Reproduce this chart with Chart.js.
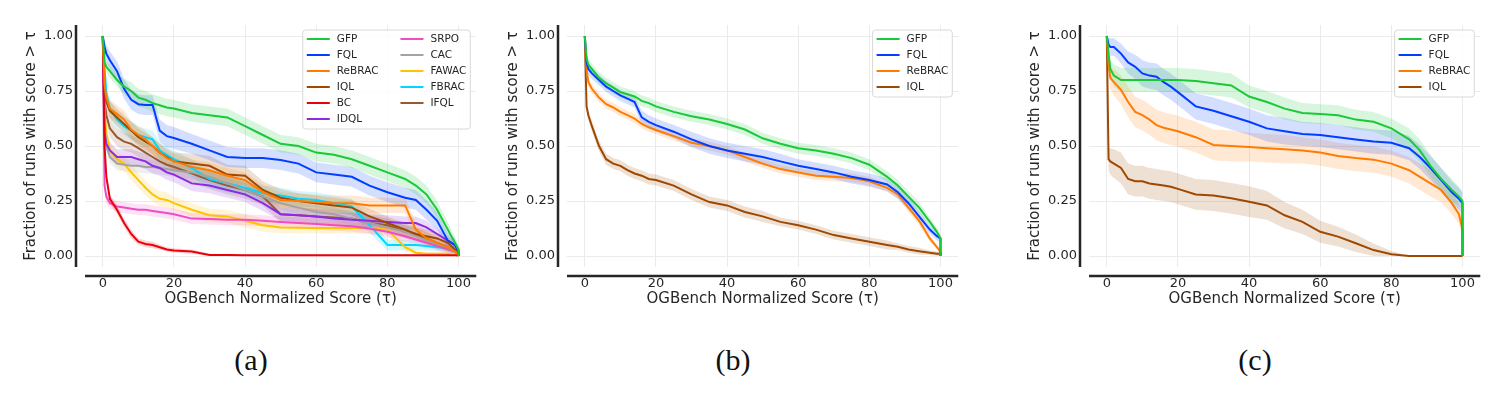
<!DOCTYPE html>
<html>
<head>
<meta charset="utf-8">
<script src="https://cdn.jsdelivr.net/npm/chart.js@4.4.1/dist/chart.umd.min.js"></script>
<style>
  body { margin: 0; background: #fff; }
  #fig { position: relative; width: 1497px; height: 396px; overflow: hidden; }
  #fig canvas { position: absolute; top: 0; }
  .cap { position: absolute; top: 340px; line-height: 40px; transform: translateX(-50%);
         font-family: "Liberation Serif", serif; font-size: 30px; color: #111; }
</style>
</head>
<body>
<div id="fig">
  <canvas id="panelA" width="480" height="320" style="left:0px"></canvas>
  <canvas id="panelB" width="480" height="320" style="left:482px"></canvas>
  <canvas id="panelC" width="480" height="320" style="left:1004px"></canvas>
  <div class="cap" style="left:251px">(a)</div>
  <div class="cap" style="left:733px">(b)</div>
  <div class="cap" style="left:1255px">(c)</div>
</div>
<script>
// score thresholds (tau); last 100 repeated so every curve closes at (100, 0)
const tau = [0, 0.5, 1, 2, 4, 6, 8, 10, 12, 14, 16, 18, 20, 25, 30, 35,
  40, 45, 50, 55, 60, 65, 70, 75, 80, 85, 88, 91, 94, 97, 99, 100, 100];
const xTicks = [0, 20, 40, 60, 80, 100];
const yTicks = [0, 0.25, 0.5, 0.75, 1.0];
const xTitle = "OGBench Normalized Score (τ)";
const yTitle = "Fraction of runs with score > τ";

// ---- panel (a) ----
const namesA = ["GFP", "FQL", "ReBRAC", "IQL", "BC", "IDQL", "SRPO", "CAC", "FAWAC", "FBRAC", "IFQL"];
const gfpA = [1.0, 0.88, 0.86, 0.84, 0.80, 0.77, 0.75, 0.72, 0.71, 0.695, 0.685, 0.675, 0.67, 0.65, 0.64, 0.63,
  0.59, 0.55, 0.51, 0.50, 0.47, 0.46, 0.44, 0.41, 0.38, 0.35, 0.32, 0.28, 0.21, 0.12, 0.06, 0.03, 0];
const fqlA = [1.0, 0.95, 0.92, 0.89, 0.84, 0.76, 0.71, 0.69, 0.686, 0.686, 0.57, 0.545, 0.536, 0.51, 0.48, 0.45,
  0.445, 0.445, 0.436, 0.42, 0.38, 0.37, 0.36, 0.32, 0.29, 0.265, 0.255, 0.21, 0.16, 0.07, 0.05, 0.02, 0];
const rebracA = [1.0, 0.78, 0.72, 0.67, 0.645, 0.62, 0.575, 0.55, 0.53, 0.50, 0.47, 0.445, 0.43, 0.405, 0.39, 0.365,
  0.345, 0.29, 0.255, 0.25, 0.245, 0.24, 0.24, 0.23, 0.23, 0.23, 0.12, 0.08, 0.06, 0.04, 0.02, 0.01, 0];
const iqlA = [1.0, 0.76, 0.70, 0.66, 0.63, 0.60, 0.57, 0.54, 0.52, 0.50, 0.47, 0.45, 0.43, 0.42, 0.41, 0.37,
  0.365, 0.30, 0.265, 0.25, 0.24, 0.23, 0.22, 0.18, 0.15, 0.12, 0.10, 0.09, 0.08, 0.06, 0.03, 0.01, 0];
const bcA = [1.0, 0.50, 0.36, 0.26, 0.21, 0.15, 0.10, 0.065, 0.055, 0.05, 0.04, 0.03, 0.025, 0.02, 0.005, 0.004,
  0.003, 0.003, 0.003, 0.003, 0.003, 0.003, 0.003, 0.003, 0.003, 0.003, 0.003, 0.003, 0.003, 0.003, 0.003, 0.002, 0];
const idqlA = [1.0, 0.56, 0.51, 0.48, 0.45, 0.45, 0.45, 0.44, 0.43, 0.41, 0.40, 0.38, 0.37, 0.33, 0.32, 0.30,
  0.28, 0.24, 0.19, 0.185, 0.18, 0.17, 0.165, 0.16, 0.155, 0.15, 0.15, 0.13, 0.10, 0.07, 0.05, 0.03, 0];
const srpoA = [1.0, 0.32, 0.27, 0.24, 0.225, 0.22, 0.215, 0.21, 0.21, 0.205, 0.20, 0.195, 0.19, 0.17, 0.168, 0.165,
  0.165, 0.16, 0.155, 0.15, 0.145, 0.14, 0.135, 0.125, 0.11, 0.09, 0.075, 0.06, 0.045, 0.03, 0.02, 0.01, 0];
const cacA = [1.0, 0.60, 0.50, 0.45, 0.42, 0.415, 0.41, 0.41, 0.405, 0.405, 0.40, 0.395, 0.39, 0.38, 0.36, 0.33,
  0.30, 0.27, 0.24, 0.22, 0.20, 0.19, 0.17, 0.15, 0.13, 0.11, 0.09, 0.07, 0.05, 0.03, 0.02, 0.01, 0];
const fawacA = [1.0, 0.65, 0.56, 0.48, 0.44, 0.42, 0.38, 0.345, 0.31, 0.28, 0.26, 0.255, 0.24, 0.21, 0.185, 0.18,
  0.16, 0.14, 0.13, 0.128, 0.127, 0.127, 0.127, 0.127, 0.12, 0.04, 0.015, 0.01, 0.01, 0.01, 0.005, 0.003, 0];
const fbracA = [1.0, 0.86, 0.74, 0.67, 0.62, 0.59, 0.57, 0.55, 0.54, 0.53, 0.48, 0.46, 0.44, 0.40, 0.35, 0.33,
  0.31, 0.285, 0.275, 0.26, 0.255, 0.24, 0.225, 0.14, 0.05, 0.05, 0.05, 0.045, 0.04, 0.035, 0.03, 0.02, 0];
const ifqlA = [1.0, 0.70, 0.64, 0.58, 0.54, 0.52, 0.51, 0.49, 0.47, 0.45, 0.43, 0.415, 0.405, 0.375, 0.345, 0.32,
  0.30, 0.27, 0.19, 0.185, 0.18, 0.175, 0.17, 0.15, 0.14, 0.11, 0.10, 0.08, 0.06, 0.04, 0.02, 0.01, 0];
// half-widths of the shaded bands
const gfpAs = [0, .02, .025, .03, .03, .035, .04, .04, .04, .04, .04, .04, .04, .04, .04, .04,
  .04, .04, .04, .04, .04, .04, .04, .04, .04, .04, .04, .04, .04, .035, .025, .02, 0];
const fqlAs = [0, .03, .04, .04, .045, .045, .045, .045, .045, .045, .05, .05, .05, .045, .045, .045,
  .045, .045, .045, .045, .045, .045, .045, .045, .045, .045, .045, .045, .04, .035, .03, .02, 0];
const rebracAs = [0, .03, .035, .04, .04, .04, .04, .04, .04, .04, .04, .035, .035, .035, .035, .035,
  .035, .035, .035, .035, .035, .035, .035, .035, .035, .035, .035, .03, .025, .02, .015, .01, 0];
const iqlAs = [0, .03, .035, .04, .04, .04, .04, .04, .04, .04, .04, .04, .04, .045, .045, .045,
  .045, .04, .04, .035, .035, .035, .035, .035, .03, .03, .03, .03, .025, .02, .015, .01, 0];
const bcAs = [0, .03, .025, .02, .02, .02, .02, .015, .015, .015, .012, .01, .01, .01, .005, .004,
  .003, .003, .003, .003, .003, .003, .003, .003, .003, .003, .003, .003, .003, .003, .003, .002, 0];
const idqlAs = [0, .03, .03, .035, .035, .035, .035, .035, .035, .035, .035, .035, .035, .035, .035, .035,
  .035, .035, .03, .03, .03, .03, .03, .03, .03, .03, .03, .03, .025, .02, .015, .01, 0];
const srpoAs = [0, .03, .03, .025, .025, .025, .025, .025, .025, .025, .025, .025, .025, .025, .025, .025,
  .025, .025, .025, .025, .025, .025, .025, .025, .025, .025, .02, .02, .02, .015, .01, .01, 0];
const cacAs = [0, .03, .03, .03, .03, .03, .03, .03, .03, .03, .03, .03, .03, .03, .03, .03,
  .03, .03, .03, .03, .03, .03, .03, .03, .03, .03, .025, .025, .02, .015, .01, .01, 0];
const fawacAs = [0, .04, .04, .04, .035, .035, .035, .035, .035, .035, .035, .035, .03, .03, .03, .03,
  .03, .03, .025, .025, .025, .025, .025, .025, .025, .02, .01, .008, .008, .008, .005, .003, 0];
const fbracAs = [0, .04, .04, .04, .04, .04, .04, .04, .04, .04, .04, .04, .04, .04, .04, .04,
  .035, .035, .035, .035, .035, .035, .035, .035, .025, .025, .025, .02, .02, .02, .015, .01, 0];
const ifqlAs = [0, .03, .035, .04, .04, .04, .04, .04, .04, .04, .04, .04, .04, .04, .04, .04,
  .04, .04, .035, .035, .035, .035, .035, .035, .03, .03, .03, .025, .02, .02, .015, .01, 0];

// ---- panel (b) ----
const namesBC = ["GFP", "FQL", "ReBRAC", "IQL"];
const gfpB = [1.0, 0.90, 0.87, 0.85, 0.81, 0.785, 0.765, 0.745, 0.735, 0.725, 0.705, 0.695, 0.68, 0.655, 0.635, 0.62,
  0.60, 0.575, 0.535, 0.51, 0.49, 0.48, 0.465, 0.445, 0.415, 0.36, 0.32, 0.27, 0.22, 0.155, 0.11, 0.08, 0];
const fqlB = [1.0, 0.88, 0.85, 0.83, 0.80, 0.77, 0.75, 0.73, 0.715, 0.70, 0.63, 0.61, 0.595, 0.565, 0.53, 0.50,
  0.48, 0.465, 0.45, 0.43, 0.41, 0.395, 0.38, 0.36, 0.345, 0.325, 0.29, 0.24, 0.18, 0.12, 0.09, 0.08, 0];
const rebracB = [1.0, 0.85, 0.79, 0.76, 0.72, 0.69, 0.675, 0.655, 0.64, 0.625, 0.60, 0.585, 0.573, 0.545, 0.515, 0.50,
  0.48, 0.45, 0.42, 0.395, 0.38, 0.365, 0.36, 0.355, 0.34, 0.31, 0.28, 0.22, 0.16, 0.08, 0.04, 0.02, 0];
const iqlB = [1.0, 0.68, 0.64, 0.59, 0.50, 0.44, 0.42, 0.41, 0.39, 0.375, 0.365, 0.35, 0.345, 0.32, 0.28, 0.245,
  0.23, 0.20, 0.18, 0.155, 0.14, 0.12, 0.095, 0.08, 0.065, 0.05, 0.042, 0.03, 0.022, 0.015, 0.01, 0.01, 0];
const gfpBs = [0, .02, .025, .025, .025, .025, .025, .025, .025, .025, .025, .025, .025, .025, .025, .025,
  .025, .025, .025, .025, .025, .025, .025, .025, .025, .025, .025, .025, .025, .02, .02, .015, 0];
const fqlBs = [0, .02, .025, .025, .025, .025, .025, .025, .025, .025, .03, .03, .03, .03, .035, .035,
  .035, .035, .035, .035, .03, .03, .03, .03, .03, .03, .03, .03, .025, .02, .02, .015, 0];
const rebracBs = [0, .02, .02, .02, .02, .02, .02, .02, .02, .02, .02, .02, .02, .02, .02, .02,
  .02, .02, .02, .02, .02, .02, .02, .02, .02, .02, .02, .02, .02, .015, .01, .01, 0];
const iqlBs = [0, .02, .02, .025, .025, .025, .025, .025, .025, .025, .025, .025, .025, .025, .025, .025,
  .025, .025, .025, .02, .02, .02, .02, .02, .02, .02, .015, .015, .015, .01, .01, .01, 0];

// ---- panel (c) ----
const gfpC = [1.0, 0.92, 0.85, 0.82, 0.80, 0.80, 0.80, 0.80, 0.80, 0.80, 0.80, 0.80, 0.80, 0.795, 0.785, 0.775,
  0.725, 0.70, 0.67, 0.65, 0.645, 0.64, 0.62, 0.61, 0.58, 0.53, 0.48, 0.41, 0.35, 0.30, 0.27, 0.25, 0];
const fqlC = [1.0, 0.96, 0.95, 0.95, 0.92, 0.88, 0.86, 0.83, 0.82, 0.815, 0.79, 0.77, 0.745, 0.68, 0.66, 0.635,
  0.61, 0.58, 0.567, 0.555, 0.55, 0.54, 0.53, 0.52, 0.515, 0.49, 0.45, 0.40, 0.345, 0.29, 0.26, 0.24, 0];
const rebracC = [1.0, 0.87, 0.81, 0.79, 0.755, 0.70, 0.655, 0.64, 0.62, 0.595, 0.583, 0.575, 0.567, 0.54, 0.505, 0.50,
  0.495, 0.49, 0.485, 0.48, 0.47, 0.455, 0.445, 0.438, 0.42, 0.39, 0.36, 0.33, 0.30, 0.24, 0.19, 0.12, 0];
const iqlC = [1.0, 0.44, 0.43, 0.42, 0.40, 0.35, 0.34, 0.34, 0.33, 0.325, 0.32, 0.315, 0.305, 0.28, 0.275, 0.262,
  0.247, 0.23, 0.185, 0.155, 0.11, 0.088, 0.058, 0.027, 0.008, 0, 0, 0, 0, 0, 0, 0, 0];
const gfpCs = [0, .03, .04, .05, .055, .055, .055, .055, .055, .055, .055, .055, .055, .055, .055, .055,
  .05, .05, .05, .045, .045, .045, .045, .045, .045, .05, .05, .05, .05, .05, .045, .04, 0];
const fqlCs = [0, .03, .04, .04, .045, .05, .055, .06, .06, .06, .06, .06, .06, .06, .06, .06,
  .06, .06, .06, .055, .055, .055, .055, .055, .055, .055, .055, .055, .055, .05, .05, .05, 0];
const rebracCs = [0, .04, .05, .06, .065, .07, .07, .07, .07, .07, .07, .07, .07, .07, .07, .07,
  .065, .065, .065, .06, .06, .06, .06, .06, .06, .06, .06, .06, .055, .05, .045, .04, 0];
const iqlCs = [0, .05, .06, .065, .07, .07, .07, .07, .07, .07, .07, .07, .07, .07, .07, .07,
  .07, .065, .06, .055, .05, .045, .04, .03, .015, 0, 0, 0, 0, 0, 0, 0, 0];

const colors = {
  GFP: "#1ac938", FQL: "#023eff", ReBRAC: "#ff7c00", IQL: "#9f4800", BC: "#e8000b",
  IDQL: "#8b2be2", SRPO: "#f14cc1", CAC: "#a3a3a3", FAWAC: "#ffc400", FBRAC: "#00d7ff", IFQL: "#955a32"
};

Chart.defaults.font.family = '"DejaVu Sans", sans-serif';
Chart.defaults.color = "#262626";

function fade(hex, a) {
  const n = parseInt(hex.slice(1), 16);
  return `rgba(${n >> 16},${(n >> 8) & 255},${n & 255},${a})`;
}

function points(vals) {
  if (vals.length !== tau.length) throw new Error("length mismatch " + vals.length);
  return tau.map((t, i) => ({ x: t, y: vals[i] }));
}

// offset spines, seaborn style
const spines = {
  id: "spines",
  afterDraw(chart) {
    const { ctx, chartArea: a } = chart;
    ctx.save();
    ctx.strokeStyle = "#262626";
    ctx.lineWidth = 2.5;
    ctx.beginPath();
    ctx.moveTo(a.left - 9, a.top);
    ctx.lineTo(a.left - 9, a.bottom);
    ctx.moveTo(a.left, a.bottom + 9);
    ctx.lineTo(a.right, a.bottom + 9);
    ctx.stroke();
    ctx.restore();
  }
};

// matplotlib-like framed legend in the upper right corner, column-major
const boxLegend = {
  id: "boxLegend",
  afterDraw(chart, args, opts) {
    const items = chart.data.datasets.filter(d => d.inLegend);
    const { ctx, chartArea: a } = chart;
    const rows = opts.rows, rowH = 16, lineLen = 23, gap = 7, pad = 4, colGap = 22;
    ctx.save();
    ctx.font = '10.5px "DejaVu Sans"';
    const cols = Math.ceil(items.length / rows);
    const colW = [];
    for (let c = 0; c < cols; c++) {
      const w = Math.max(...items.slice(c * rows, (c + 1) * rows).map(d => ctx.measureText(d.label).width));
      colW.push(lineLen + gap + w);
    }
    const width = pad * 2 + colW.reduce((s, w) => s + w, 0) + colGap * (cols - 1);
    const height = 9 + (Math.min(rows, items.length) - 1) * rowH + 10;
    const right = a.right - 6, top = a.top + 5, left = right - width;
    ctx.beginPath();
    ctx.roundRect(left, top, width, height, 3);
    ctx.fillStyle = "rgba(255,255,255,0.85)";
    ctx.fill();
    ctx.strokeStyle = "#d8d8d8";
    ctx.lineWidth = 1;
    ctx.stroke();
    ctx.textBaseline = "middle";
    ctx.textAlign = "left";
    let x = left + pad;
    items.forEach((d, i) => {
      const c = Math.floor(i / rows), r = i % rows;
      if (r === 0 && c > 0) x += colW[c - 1] + colGap;
      const y = top + 9 + r * rowH;
      ctx.strokeStyle = d.borderColor;
      ctx.lineWidth = 2;
      ctx.beginPath();
      ctx.moveTo(x, y);
      ctx.lineTo(x + lineLen, y);
      ctx.stroke();
      ctx.fillStyle = "#262626";
      ctx.fillText(d.label, x + lineLen + gap, y + 0.5);
    });
    ctx.restore();
  }
};

function drawPanel(id, names, means, spreads, rows) {
  const datasets = [];
  names.forEach((name, k) => {
    const hi = means[k].map((v, i) => Math.min(1, v + spreads[k][i]));
    const lo = means[k].map((v, i) => Math.max(0, v - spreads[k][i]));
    datasets.push({ label: name + " upper", data: points(hi), fill: "+1", order: 2,
      backgroundColor: fade(colors[name], 0.17), borderColor: "transparent", borderWidth: 0, pointRadius: 0 });
    datasets.push({ label: name + " lower", data: points(lo), fill: false, order: 2,
      borderColor: "transparent", borderWidth: 0, pointRadius: 0 });
  });
  names.forEach((name, k) => {
    datasets.push({ label: name, inLegend: true, data: points(means[k]), fill: false, order: 1,
      borderColor: colors[name], borderWidth: 2, pointRadius: 0, tension: 0 });
  });

  new Chart(document.getElementById(id), {
    type: "line",
    data: { datasets },
    options: {
      responsive: false,
      animation: false,
      events: [],
      layout: { padding: { top: 25, right: 2, left: 0, bottom: 0 } },
      plugins: {
        legend: { display: false },
        tooltip: { enabled: false },
        boxLegend: { rows }
      },
      scales: {
        x: {
          type: "linear", min: -5, max: 105,
          afterBuildTicks: s => { s.ticks = xTicks.map(v => ({ value: v })); },
          afterFit: s => { s.height = 53; },
          grid: { color: "#ebebeb", lineWidth: 1, drawTicks: false },
          border: { display: false },
          ticks: { padding: 9, font: { size: 13 }, color: "#262626", maxRotation: 0 },
          title: { display: true, text: xTitle, font: { size: 15 }, color: "#262626", padding: { top: 0, bottom: 12 } }
        },
        y: {
          type: "linear", min: -0.05, max: 1.05,
          afterBuildTicks: s => { s.ticks = yTicks.map(v => ({ value: v })); },
          afterFit: s => { s.width = 85; },
          grid: { color: "#ebebeb", lineWidth: 1, drawTicks: false },
          border: { display: false },
          ticks: { padding: 12, font: { size: 13 }, color: "#262626", callback: v => v.toFixed(2) },
          title: { display: true, text: yTitle, font: { size: 15 }, color: "#262626", padding: { top: 22, bottom: 0 } }
        }
      }
    },
    plugins: [spines, boxLegend]
  });
}

drawPanel("panelA", namesA,
  [gfpA, fqlA, rebracA, iqlA, bcA, idqlA, srpoA, cacA, fawacA, fbracA, ifqlA],
  [gfpAs, fqlAs, rebracAs, iqlAs, bcAs, idqlAs, srpoAs, cacAs, fawacAs, fbracAs, ifqlAs], 6);
drawPanel("panelB", namesBC, [gfpB, fqlB, rebracB, iqlB], [gfpBs, fqlBs, rebracBs, iqlBs], 4);
drawPanel("panelC", namesBC, [gfpC, fqlC, rebracC, iqlC], [gfpCs, fqlCs, rebracCs, iqlCs], 4);
</script>
</body>
</html>
